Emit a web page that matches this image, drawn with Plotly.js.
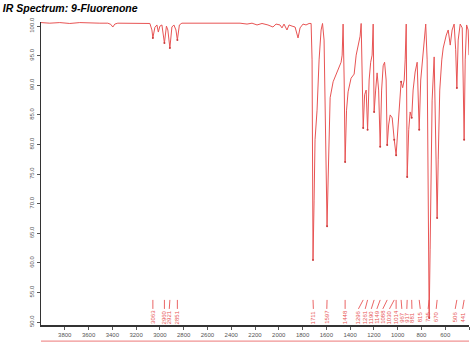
<!DOCTYPE html>
<html>
<head>
<meta charset="utf-8">
<script src="https://cdn.plot.ly/plotly-3.0.1.min.js"></script>
<style>
html,body{margin:0;padding:0;background:#fff;}
#chart{width:474px;height:346px;}
</style>
</head>
<body>
<div id="chart"></div>
<script>
// Spectrum trace (wavenumber cm-1, transmittance %)
const wavenumber = [4000,3926,3842,3758,3674,3589,3505,3438,3413,3396,3379,3354,3295,3211,3126,3084,3067,3059,3042,3025,3013,3000,2983,2962,2945,2933,2916,2899,2882,2865,2853,2836,2815,2747,2663,2579,2495,2410,2326,2267,2225,2183,2141,2091,2049,2023,1990,1973,1956,1931,1914,1888,1863,1838,1821,1796,1771,1745,1728,1720,1712,1703,1695,1678,1661,1644,1632,1619,1606,1594,1585,1568,1543,1518,1493,1476,1467,1459,1450,1442,1430,1417,1392,1366,1349,1332,1316,1307,1299,1290,1278,1265,1253,1240,1227,1215,1206,1198,1185,1173,1160,1147,1135,1122,1110,1097,1088,1076,1063,1046,1029,1013,996,983,971,958,945,937,928,920,907,895,882,870,853,836,828,819,806,794,777,764,752,735,727,718,710,693,676,668,659,646,629,617,591,575,558,542,525,512,502,491,474,457,449,441,432,420,407,400];
const transmittance = [100.6,100.5,100.6,100.45,100.6,100.5,100.5,100.5,100.3,99.85,100.35,100.5,100.5,100.55,100.5,100.45,99.35,98.0,99.8,100.2,99.0,100.0,100.2,97.15,100.0,99.35,96.3,99.85,100.2,99.35,97.65,100.2,100.5,100.5,100.6,100.5,100.55,100.5,100.5,100.35,100.5,100.2,100.45,100.2,99.85,100.35,100.2,99.7,100.35,99.35,100.2,100.0,99.85,98.0,99.7,100.35,100.2,100.45,100.45,94.3,60.5,70.6,80.8,85.8,94.3,99.35,100.45,97.65,84.1,66.2,74.0,87.9,90.6,91.9,92.9,93.9,95.1,100.35,90.9,77.05,85.8,88.9,91.2,91.9,95.1,96.6,98.3,100.45,94.3,82.8,88.4,89.2,82.5,90.9,93.9,95.1,100.35,85.5,89.2,92.1,89.2,79.6,89.2,93.3,93.9,90.9,79.9,83.3,85.0,84.5,80.8,78.2,83.3,87.5,90.6,89.6,90.9,94.3,100.35,74.5,82.5,85.5,84.5,89.2,92.25,93.9,89.2,82.5,90.9,93.9,97.65,100.35,94.3,50.7,62.2,75.7,87.5,94.8,79.1,67.6,77.4,89.2,94.3,96.3,98.5,99.35,96.8,99.35,100.35,96.0,89.55,97.65,100.35,99.7,90.9,80.8,94.3,100.2,99.35,95.1];

// Peak labels
const peakW  = [3059,2962,2916,2853,1712,1594,1442,1290,1253,1198,1147,1088,1029,1013,971,920,882,819,735,668,502,441];
const labelW = [3059,2962,2921,2853,1709,1596,1442,1330,1273,1222,1175,1125,1069,1013,965,923,880,810,744,676,516,454];
const labelText = ["3063","2960","2921","2851","1711","1597","1448","1296","1261","1190","1149","1088","1030","1014","967","917","881","815","735","670","506","441"];

// axis ticks
const xTicks = [3800,3600,3400,3200,3000,2800,2600,2400,2200,2000,1800,1600,1400,1200,1000,800,600,400];
const yTicks = [50,55,60,65,70,75,80,85,90,95,100];

// Top edge of the next panel (cut off at the bottom of the picture)
const nextW = [4000,400];
const nextT = [0.45,0.45];

const red = 'rgb(232,84,84)';
const lineTop = 53.74, lineBottom = 52.22, labelY = 50.85;

const lx = [], ly = [];
for (let i = 0; i < peakW.length; i++) {
  lx.push(peakW[i], labelW[i], null);
  ly.push(lineTop, lineBottom, null);
}
const peakT = peakW.map(w => transmittance[wavenumber.indexOf(w)]);

const traces = [
  {x: wavenumber, y: transmittance, type: 'scatter', mode: 'lines',
   line: {color: red, width: 1}, hoverinfo: 'skip', xaxis: 'x', yaxis: 'y'},
  {x: lx, y: ly, type: 'scatter', mode: 'lines',
   line: {color: red, width: 0.9}, hoverinfo: 'skip', connectgaps: false, xaxis: 'x', yaxis: 'y'},
  {x: peakW, y: peakT, type: 'scatter', mode: 'markers',
   marker: {color: 'rgb(200,60,60)', size: 2}, hoverinfo: 'skip', xaxis: 'x', yaxis: 'y'},
  {x: nextW, y: nextT, type: 'scatter', mode: 'lines',
   line: {color: 'rgb(236,120,120)', width: 1}, hoverinfo: 'skip', xaxis: 'x2', yaxis: 'y2'}
];

const annotations = labelW.map((w, i) => ({
  x: w, y: labelY, xref: 'x', yref: 'y', text: labelText[i],
  showarrow: false, textangle: -90, xanchor: 'center', yanchor: 'middle',
  font: {family: 'Liberation Sans, Arial, sans-serif', size: 6, color: red}
}));

const layout = {
  width: 474, height: 346,
  paper_bgcolor: '#fff', plot_bgcolor: '#fff',
  margin: {l: 41, r: 5, t: 22, b: 2, pad: 0},
  showlegend: false,
  font: {family: 'Liberation Sans, Arial, sans-serif', color: '#444'},
  title: {
    text: '<b><i>IR Spectrum: 9-Fluorenone</i></b>',
    xref: 'container', yref: 'container', x: 0.006, xanchor: 'left',
    y: 0.977, yanchor: 'middle',
    font: {family: 'Liberation Sans, Arial, sans-serif', size: 10.5, color: '#000'}
  },
  xaxis: {
    range: [4000, 400], tickvals: xTicks, ticktext: xTicks.map(String),
    showgrid: false, zeroline: false, showline: true, linecolor: '#333', linewidth: 1.5,
    ticks: 'outside', ticklen: 3, tickcolor: '#555', tickwidth: 1,
    tickfont: {size: 6, color: '#555'}, anchor: 'y'
  },
  yaxis: {
    range: [49.5, 100.7], domain: [0.059, 1], tickvals: yTicks,
    ticktext: yTicks.map(v => v.toFixed(1)), tickangle: -90,
    showgrid: false, zeroline: false, showline: true, linecolor: '#333', linewidth: 1.5,
    ticks: 'outside', ticklen: 3, tickcolor: '#555', tickwidth: 1,
    tickfont: {size: 6, color: '#555'}, anchor: 'x'
  },
  xaxis2: {range: [4000, 400], visible: false, anchor: 'y2'},
  yaxis2: {range: [0, 1], domain: [0, 0.02], visible: false, anchor: 'x2'},
  annotations: annotations
};

Plotly.newPlot('chart', traces, layout, {staticPlot: true, displayModeBar: false});
</script>
</body>
</html>
